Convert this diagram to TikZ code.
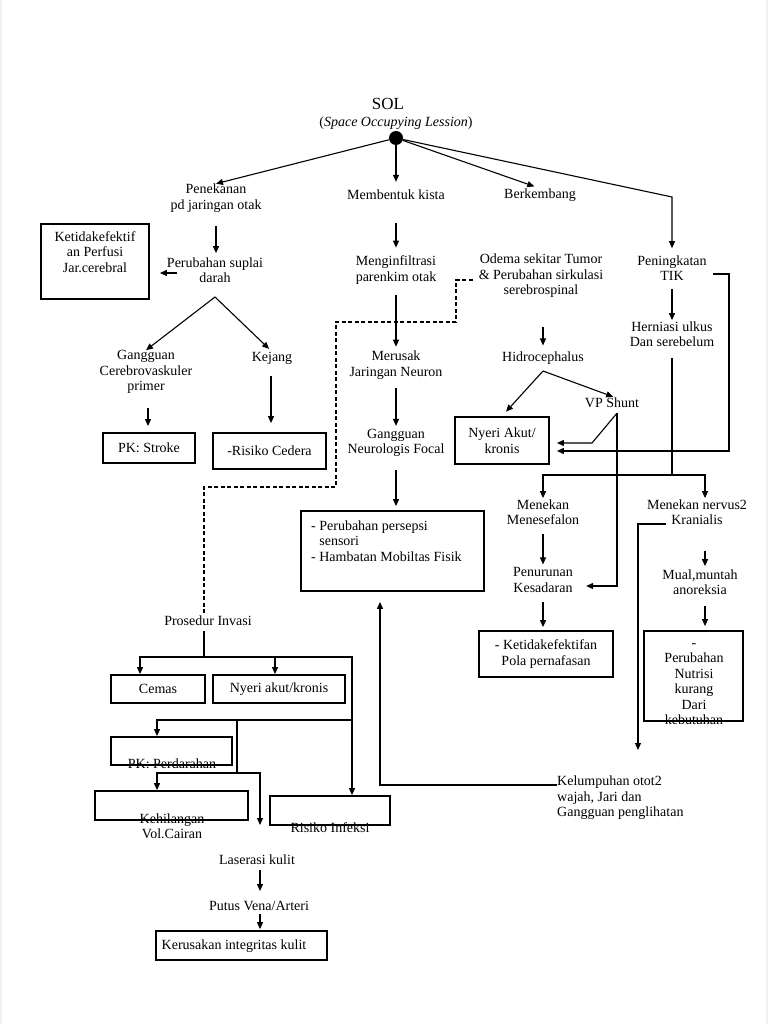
\documentclass[tikz,border=0pt]{standalone}
\usepackage{fontspec}
\setmainfont{Liberation Serif}
\usetikzlibrary{arrows.meta}
\begin{document}
\begin{tikzpicture}[x=1pt,y=-1pt,
  txt/.style={font=\fontsize{14}{15.5}\selectfont, align=center, inner sep=0pt},
  bx/.style={draw, line width=1.8pt, inner sep=0pt, font=\fontsize{14}{15.5}\selectfont, align=center},
  arr/.style={line width=1.1pt, -{Triangle[length=7pt,width=6pt]}},
  ln/.style={line width=1.1pt},
  dsh/.style={line width=1.8pt, dash pattern=on 4pt off 2.5pt},
]
\useasboundingbox (0,0) rectangle (768,1024);
\fill[white] (0,0) rectangle (768,1024);
\draw[gray!12, line width=2pt] (1,0) -- (1,1024) (767,0) -- (767,1024);

% top
\node[txt] (sol) at (388,104) {\fontsize{17}{17}\selectfont SOL};
\node[txt] (sub) at (396,123) {(\textit{Space Occupying Lession})};
\node[circle, fill, minimum size=14pt, inner sep=0pt] (dot) at (396,138) {};

% text nodes
\node[txt] (pen) at (216,198) {Penekanan\\pd jaringan otak};
\node[txt] (mem) at (396,195) {Membentuk kista};
\node[txt] (ber) at (540,195) {Berkembang};
\node[txt] (tik) at (672,268) {Peningkatan\\TIK};
\node[txt] (per) at (215,270) {Perubahan suplai\\darah};
\node[txt] (inf) at (396,270) {Menginfiltrasi\\parenkim otak};
\node[txt] (ode) at (541,276) {Odema sekitar Tumor\\\& Perubahan sirkulasi\\serebrospinal};
\node[txt] (gcp) at (146,372) {Gangguan\\Cerebrovaskuler\\primer};
\node[txt] (kej) at (272,358) {Kejang};
\node[txt] (mer) at (396,365) {Merusak\\Jaringan Neuron};
\node[txt] (her) at (672,334) {Herniasi ulkus\\Dan serebelum};
\node[txt] (hid) at (543,358) {Hidrocephalus};
\node[txt] (vps) at (612,403) {VP Shunt};
\node[txt] (gnf) at (396,443) {Gangguan\\Neurologis Focal};
\node[txt] (mmf) at (543,512) {Menekan\\Menesefalon};
\node[txt] (mnk) at (697,512) {Menekan nervus2\\Kranialis};
\node[txt] (pnk) at (543,580) {Penurunan\\Kesadaran};
\node[txt] (mua) at (700,582) {Mual,muntah\\anoreksia};
\node[txt] (pro) at (208,621) {Prosedur Invasi};
\node[txt, anchor=west, align=left] (kel) at (557,798) {Kelumpuhan otot2\\wajah, Jari dan\\Gangguan penglihatan};
\node[txt] (las) at (257,860) {Laserasi kulit};
\node[txt] (put) at (259,906) {Putus Vena/Arteri};

% boxes
\node[bx, minimum width=108pt, minimum height=75pt] (kpfb) at (95,261.5) {};
\node[txt] (kpf) at (95,252) {Ketidakefektif\\an Perfusi\\Jar.cerebral};
\node[bx, minimum width=92pt, minimum height=30pt] (stk) at (149,448) {PK: Stroke};
\node[bx, minimum width=113pt, minimum height=36pt] (rcd) at (269.5,451) {-Risiko Cedera};
\node[bx, minimum width=94pt, minimum height=47pt] (nak) at (502,440.5) {Nyeri Akut/\\kronis};
\node[bx, minimum width=183pt, minimum height=80pt] (ppsb) at (392.5,551) {};
\node[txt, anchor=west, align=left] (pps) at (311,541) {- Perubahan persepsi\\\phantom{- }sensori\\- Hambatan Mobiltas Fisik};
\node[bx, minimum width=134pt, minimum height=46pt] (kpn) at (546,654) {- Ketidakefektifan\\Pola pernafasan};
\node[bx, minimum width=99pt, minimum height=90pt] (pnub) at (693.5,676) {};
\node[txt] (pnu) at (694,684) {-\\Perubahan\\Nutrisi\\kurang\\Dari\\kebutuhan};
\node[bx, minimum width=94pt, minimum height=28pt] (cem) at (158,689) {Cemas};
\node[bx, minimum width=132pt, minimum height=28pt] (nyk) at (279,689) {Nyeri akut/kronis};
\node[bx, minimum width=121pt, minimum height=28pt] (pkpb) at (171.5,751) {};
\node[txt] (pkp) at (172,764) {PK: Perdarahan};
\node[bx, minimum width=153pt, minimum height=29pt] (kvcb) at (171.5,805.5) {};
\node[txt] (kvc) at (172,826) {Kehilangan\\Vol.Cairan};
\node[bx, minimum width=120pt, minimum height=29pt] (rinb) at (330,810.5) {};
\node[txt] (rin) at (330,828) {Risiko Infeksi};
\node[bx, minimum width=171pt, minimum height=29pt] (kikb) at (241.5,945.5) {};
\node[txt] (kik) at (234,946) {Kerusakan integritas kulit};

% helper coordinates
\coordinate (tk) at (672,197);
\coordinate (ap1) at (215,297);
\coordinate (ap2) at (543,371);
\coordinate (d1) at (456,322);
\coordinate (d2) at (336,487);
\coordinate (d3) at (204,487);
\coordinate (b1) at (204,657);
\coordinate (b2) at (352,657);
\coordinate (c1) at (352,720);
\coordinate (c2) at (237,720);
\coordinate (c3) at (237,773);
\coordinate (c4) at (260,825);
\coordinate (v1) at (592,443);
\coordinate (v2) at (617,586);
\coordinate (s1) at (729,451);
\coordinate (h1) at (672,475);
\coordinate (k1) at (638,524);
\coordinate (k2) at (638,750);
\coordinate (vs) at ([xshift=5pt,yshift=-5pt]vps.south);

% from SOL
\draw[arr] (dot) -- (pen.north);
\draw[arr, shorten >=8pt] (dot) -- (mem.north);
\draw[arr, shorten >=6pt] (dot) -- (ber.north);
\draw[arr, shorten >=7pt] (dot) -- (tk) -- (tik.north);

% left column
\draw[arr, shorten <=14pt, shorten >=4pt] (pen.south) -- (pen.south |- per.north);
\draw[arr] ([xshift=10pt,yshift=-3pt]per.west) -- ([xshift=10pt,yshift=-3pt]per.west -| kpfb.east);
\draw[arr] (ap1) -- (gcp.north);
\draw[arr, shorten >=4pt] (ap1) -- (kej.north);
\draw[arr, shorten <=14pt, shorten >=6pt] ([xshift=2pt]gcp.south) -- ([xshift=2pt]gcp.south |- stk.north);
\draw[arr, shorten <=12pt, shorten >=9pt] ([xshift=-1pt]kej.south) -- ([xshift=-1pt]kej.south |- rcd.north);

% middle column
\draw[arr, shorten <=23pt, shorten >=8pt] (mem.south) -- (inf.north);
\draw[arr, shorten <=11pt, shorten >=4pt] (inf.south) -- (mer.north);
\draw[arr, shorten <=9pt, shorten >=3pt] (mer.south) -- (gnf.north);
\draw[arr, shorten <=13pt, shorten >=4pt] (gnf.south) -- (gnf.south |- ppsb.north);

% dashed
\draw[dsh] ([xshift=-6pt,yshift=-4pt]ode.west) -| (d1) -| (d2) -- (d3) -- (d3 |- pro.north);

% Prosedur Invasi branches
\draw[ln, shorten >=5pt] (b1) -- (b1 |- pro.south);
\draw[arr] (b1) -| ([xshift=-18pt]cem.north);
\draw[arr] (b1) -| ([xshift=-4pt]nyk.north);
\draw[arr] (b1) -- (b2) -- (b2 |- rinb.north);
\draw[arr] (c1) -| ([xshift=-14.5pt]pkpb.north);
\draw[ln] (c2) -- (c3);
\draw[arr] (c3) -| ([xshift=-14.5pt]kvcb.north);
\draw[arr] (c3) -| (c4);
\draw[arr, shorten <=5pt, shorten >=10pt] ([xshift=3pt]las.south) -- ([xshift=3pt]las.south |- put.north);
\draw[arr, shorten <=3pt, shorten >=1pt] ([xshift=1pt]put.south) -- ([xshift=1pt]put.south |- kikb.north);

% Kelumpuhan
\draw[arr, shorten >=10pt] ([yshift=13pt]kel.west) -| ([xshift=-12.5pt]ppsb.south);

% right side
\draw[arr, shorten <=29pt, shorten >=6pt] (ode.south -| hid.north) -- (hid.north);
\draw[arr, shorten >=6pt] (ap2) -- (nak.north);
\draw[arr, shorten >=3pt] (ap2) -- ([xshift=4pt]vps.north);
\draw[arr, shorten >=7pt] (vs) -- (v1) -- (v1 -| nak.east);
\draw[arr, shorten >=13pt] (vs) -- (v2) -- (v2 -| pnk.east);
\draw[arr, shorten >=7pt] ([xshift=6pt,yshift=-6pt]tik.east) -| (s1) -- (s1 -| nak.east);
\draw[arr, shorten <=8pt, shorten >=1pt] (tik.south) -- (her.north);
\draw[ln, shorten <=11pt] (her.south) -- (h1);
\draw[arr, shorten >=1pt] (h1) -| (mmf.north);
\draw[arr, shorten >=1pt] (h1) -| ([xshift=8pt]mnk.north);
\draw[arr, shorten <=9pt, shorten >=3pt] (mmf.south) -- (pnk.north);
\draw[arr, shorten <=9pt, shorten >=3pt] (pnk.south) -- (pnk.south |- kpn.north);
\draw[arr, shorten <=26pt, shorten >=3pt] ([xshift=8pt]mnk.south) -- ([xshift=5pt]mua.north);
\draw[arr, shorten <=11pt, shorten >=4pt] ([xshift=5pt]mua.south) -- ([xshift=5pt]mua.south |- pnub.north);
\draw[arr] ([xshift=-31pt,yshift=-12pt]mnk.center) -- (k1) -- (k2);
\end{tikzpicture}
\end{document}
